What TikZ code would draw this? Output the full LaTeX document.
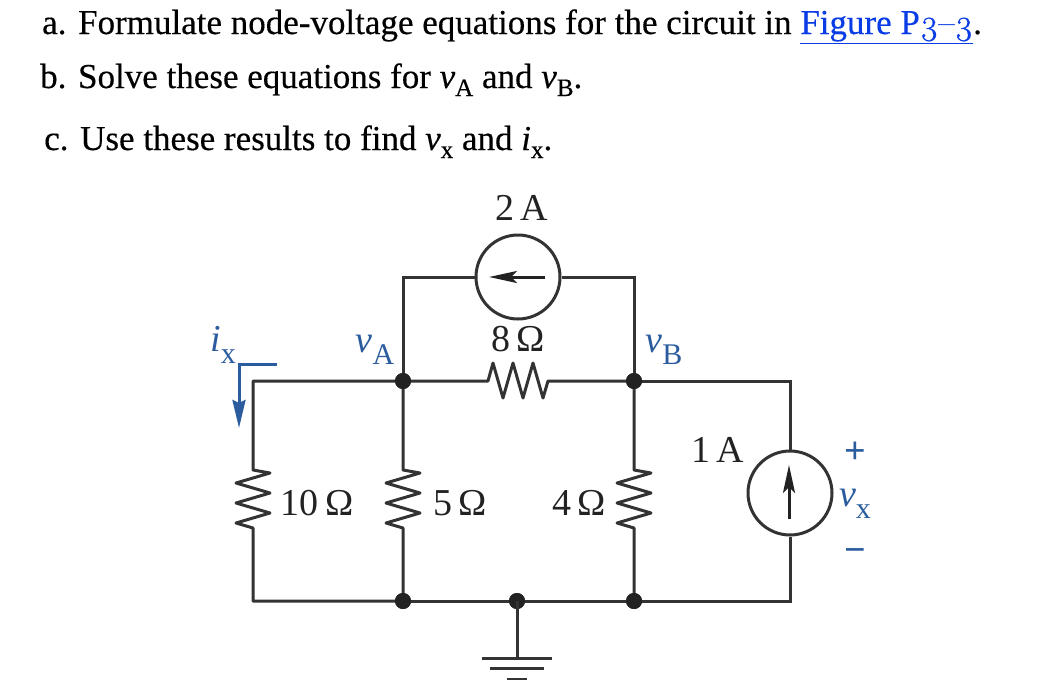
\documentclass[tikz,border=0pt]{standalone}
\usepackage{fontspec}
\setmainfont{Liberation Serif}
\newfontfamily\quesfont[FakeBold=0.35]{Liberation Serif}
\newfontfamily\oldnum[Numbers=OldStyle,FakeBold=0.6]{Latin Modern Roman}
\usetikzlibrary{arrows.meta}
\definecolor{wire}{HTML}{333333}
\definecolor{figblue}{HTML}{2B5C9E}
\definecolor{linkblue}{HTML}{0A3CE6}
\definecolor{ink}{HTML}{222222}
\newcommand{\vsub}[2]{\textit{#1}\raisebox{-8pt}{\fontsize{25}{25}\selectfont #2}}
\newcommand{\flab}[2]{\textit{#1}\raisebox{-12pt}{\fontsize{30}{30}\selectfont #2}}
\tikzset{
  x=1pt,y=-1pt,
  wireline/.style={draw=wire,line width=3pt,line join=miter},
  resline/.style={draw=wire,line width=3pt,line join=round},
  src/.style={circle,draw=wire,line width=3pt,fill=white,minimum size=84pt,inner sep=0pt},
  dot/.style={circle,fill=ink,minimum size=16pt,inner sep=0pt},
  val/.style={text=ink,font=\fontsize{38}{38}\selectfont,inner sep=0pt},
  blab/.style={text=figblue,font=\fontsize{38}{38}\selectfont,inner sep=0pt},
  ques/.style={anchor=base west,text=black,inner sep=0pt,font=\quesfont\fontsize{35}{35}\selectfont},
  vres/.style={to path={-- ++(17,3) -- ++(-34,10) -- ++(34,10) -- ++(-34,10) -- ++(34,10) -- ++(-34,10) -- (\tikztotarget)}},
  hres/.style={to path={-- ++(5,-18) -- ++(10,35) -- ++(10,-35) -- ++(10,35) -- ++(10,-35) -- ++(10,35) -- (\tikztotarget)}},
  srcarrow/.style={draw=ink,line width=3pt,-{Stealth[length=28pt,width=12pt,inset=6pt]}},
  curarrow/.style={draw=figblue,line width=3pt,-{Stealth[length=28pt,width=13pt,inset=3pt]}},
}
\begin{document}
\begin{tikzpicture}
\useasboundingbox (0,0) rectangle (1044,696);
% question text
\node[ques] (qa) at (42,34) {a. Formulate node-voltage equations for the circuit in \textcolor{linkblue}{\underline{Figure P{\oldnum 3–3}}}.};
\node[ques] (qb) at (40,88) {b. Solve these equations for \vsub{v}{A} and \vsub{v}{B}.};
\node[ques] (qc) at (44,150) {c. Use these results to find \vsub{v}{x} and \vsub{i}{x}.};
% junctions
\node[dot] (A) at (403,381) {};
\node[dot] (B) at (634,381) {};
\node[dot] (C) at (403,601) {};
\node[dot] (G) at (517,601) {};
\node[dot] (D) at (634,601) {};
% sources
\node[src] (S2) at (518,277) {};
\node[src] (S1) at (790,493) {};
% corners and resistor ends
\coordinate (tl) at (403,277);
\coordinate (tr) at (634,277);
\coordinate (ll) at (253,381);
\coordinate (lb) at (253,601);
\coordinate (rr) at (790,381);
\coordinate (rb) at (790,601);
\coordinate (r8a) at (488,381);
\coordinate (r8b) at (548,381);
\coordinate (r10a) at (253,470);
\coordinate (r10b) at (253,528);
\coordinate (r5a) at (403,470);
\coordinate (r5b) at (403,528);
\coordinate (r4a) at (634,470);
\coordinate (r4b) at (634,528);
% wires
\draw[wireline] (S2.west) -- (tl) -- (A.center);
\draw[wireline] (S2.east) -- (tr) -- (B.center);
\draw[resline] (A.center) -- (r8a) to[hres] (r8b) -- (B.center);
\draw[resline] (A.center) -- (ll) -- (r10a) to[vres] (r10b) -- (lb) -- (C.center);
\draw[resline] (A.center) -- (r5a) to[vres] (r5b) -- (C.center);
\draw[resline] (B.center) -- (r4a) to[vres] (r4b) -- (D.center);
\draw[wireline] (B.center) -- (rr) -- (S1.north);
\draw[wireline] (S1.south) -- (rb) -- (D.center);
\draw[wireline] (C.center) -- (G.center) -- (D.center);
% redraw junctions above the wires
\foreach \n in {A,B,C,G,D} \fill[ink] (\n) circle (8);
% ground
\coordinate (g1) at (517,658);
\draw[wireline] (G.center) -- (g1);
\draw[wireline] (482,658) -- (552,658);
\draw[wireline] (490,668) -- (544,668);
\fill[wire] (507,678) rectangle (527,680);
% source arrows
\coordinate (a2s) at (545,277);
\coordinate (a2e) at (489,277);
\draw[srcarrow] (a2s) -- (a2e);
\coordinate (a1s) at (789,519);
\coordinate (a1e) at (789,465);
\draw[srcarrow] (a1s) -- (a1e);
% current arrow
\coordinate (ixa) at (277,364);
\coordinate (ixb) at (239,364);
\coordinate (ixc) at (239,428);
\draw[curarrow] (ixa) -- (ixb) -- (ixc);
% values
\node[val] (l2) at (522,208) {2\,A};
\node[val] (l8) at (518,339) {8\,Ω};
\node[val] (l10) at (317,503) {10\,Ω};
\node[val] (l5) at (460,503) {5\,Ω};
\node[val] (l4) at (579,503) {4\,Ω};
\node[val] (l1) at (718,450) {1\,A};
% blue labels
\node[blab] (lix) at (223,345) {\flab{i}{x}};
\node[blab] (lva) at (375,350) {\flab{v}{A}};
\node[blab] (lvb) at (664,350) {\flab{v}{B}};
\node[blab] (lvx) at (855,504) {\flab{v}{x}};
\node[blab,font=\bfseries\fontsize{38}{38}\selectfont] (lp) at (855,453) {+};
\node[blab,font=\bfseries\fontsize{38}{38}\selectfont] (lm) at (855,556) {\textminus};
\end{tikzpicture}
\end{document}
